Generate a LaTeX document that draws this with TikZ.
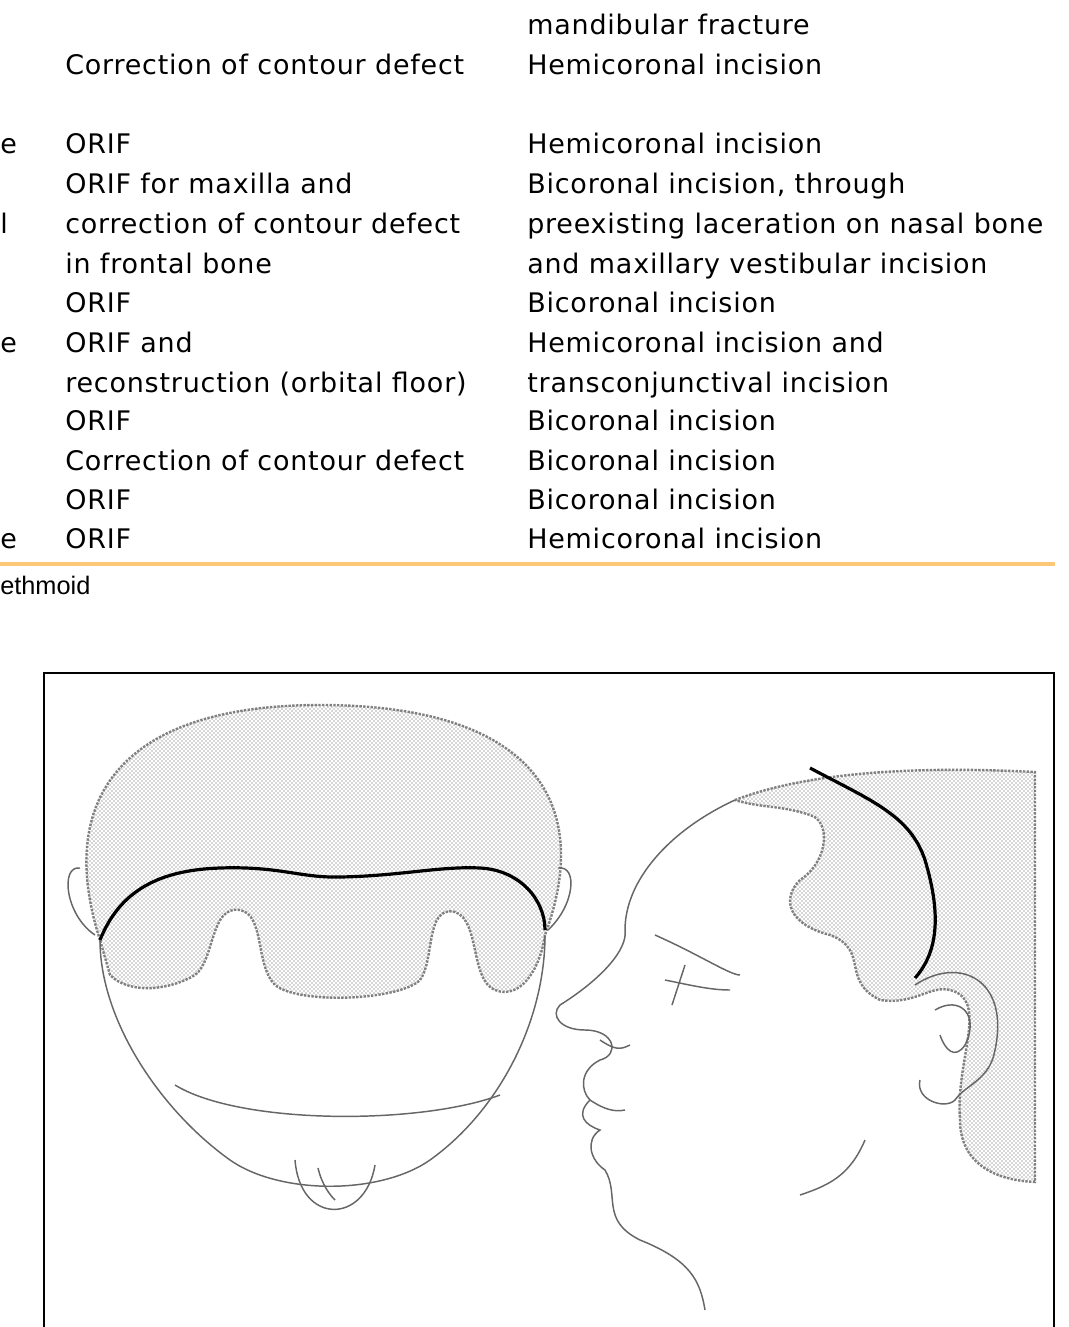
\documentclass[tikz,border=0pt]{standalone}
\usepackage{fontspec}
\setmainfont{DejaVu Sans}[LetterSpace=3]
\newfontfamily\arialf{Liberation Sans}
\usetikzlibrary{patterns}
\begin{document}
\begin{tikzpicture}[x=0.75pt,y=-0.75pt,
  txt/.style={anchor=base west,inner sep=0pt,font=\fontsize{20.2}{24}\selectfont},
  outl/.style={draw=black!60,line width=1.1pt},
  hair/.style={pattern=crosshatch dots,pattern color=black!70,draw=black!50,line width=1.8pt,densely dotted},
  cut/.style={draw=black,line width=2.4pt}]
\useasboundingbox (0,0) rectangle (1069,1327);
% table text
\foreach \y/\a/\b/\c in {
 35//{}/mandibular fracture,
 75//Correction of contour defect/Hemicoronal incision,
 154/e/ORIF/Hemicoronal incision,
 193//ORIF for maxilla and/{Bicoronal incision, through},
 233/l/correction of contour defect/preexisting laceration on nasal bone,
 273//in frontal bone/and maxillary vestibular incision,
 312//ORIF/Bicoronal incision,
 352/e/ORIF and/Hemicoronal incision and,
 392//reconstruction (orbital floor)/transconjunctival incision,
 430//ORIF/Bicoronal incision,
 470//Correction of contour defect/Bicoronal incision,
 509//ORIF/Bicoronal incision,
 548/e/ORIF/Hemicoronal incision}
{\node[txt] at (0,\y) {\a}; \node[txt] at (65,\y) {\b}; \node[txt] at (527,\y) {\c};}
\draw[color={rgb,255:red,252;green,200;blue,120},line width=2.3pt] (0,564)--(1055,564);
\node[anchor=base west,inner sep=0pt,font=\arialf\fontsize{19}{22}\selectfont] at (0,594) {ethmoid};
% frame
\draw[line width=0.8pt] (44,1330)--(44,673)--(1054,673)--(1054,1330);
% FRONT HEAD
\path[hair] (100,940) .. controls (55,800) and (120,705) .. (320,705)
  .. controls (530,705) and (595,800) .. (545,935)
  .. controls (540,970) and (520,1000) .. (495,990)
  .. controls (470,980) and (480,920) .. (455,912)
  .. controls (425,905) and (435,960) .. (420,980)
  .. controls (400,1000) and (300,1005) .. (275,985)
  .. controls (255,965) and (265,915) .. (240,910)
  .. controls (210,905) and (215,960) .. (195,975)
  .. controls (170,990) and (130,995) .. (110,975) -- cycle;
\draw[outl] (100,940) .. controls (100,1020) and (160,1110) .. (230,1160)
  .. controls (280,1195) and (380,1195) .. (430,1160)
  .. controls (500,1110) and (545,1020) .. (545,935);
\draw[outl] (80,868) .. controls (60,865) and (65,915) .. (95,935);
\draw[outl] (558,868) .. controls (578,865) and (575,905) .. (548,930);
\draw[outl] (175,1085) .. controls (240,1125) and (420,1125) .. (500,1095);
\draw[outl] (295,1160) .. controls (300,1225) and (365,1225) .. (375,1165);
\draw[outl] (318,1168) .. controls (322,1185) and (330,1195) .. (335,1200);
\draw[cut] (100,940) .. controls (120,890) and (160,870) .. (220,868)
  .. controls (280,866) and (300,878) .. (340,877)
  .. controls (400,876) and (440,866) .. (480,868)
  .. controls (520,870) and (545,900) .. (545,930);
% SIDE HEAD
\path[hair] (735,800) .. controls (800,775) and (900,765) .. (1035,772)
  -- (1035,1182) .. controls (990,1180) and (960,1160) .. (960,1120)
  .. controls (955,1060) and (990,1000) .. (950,990)
  .. controls (930,985) and (915,1005) .. (880,1000)
  .. controls (840,980) and (870,950) .. (830,935)
  .. controls (790,925) and (780,900) .. (800,880)
  .. controls (830,860) and (830,820) .. (810,815)
  .. controls (780,805) and (760,808) .. (735,800) -- cycle;
\draw[outl] (735,800) .. controls (670,830) and (625,880) .. (625,930)
  .. controls (628,950) and (600,980) .. (560,1005)
  .. controls (550,1015) and (560,1030) .. (585,1030)
  .. controls (615,1030) and (620,1055) .. (600,1060)
  .. controls (580,1070) and (580,1090) .. (590,1100)
  .. controls (575,1115) and (585,1125) .. (600,1130)
  .. controls (585,1140) and (590,1160) .. (605,1170)
  .. controls (620,1195) and (600,1220) .. (640,1240)
  .. controls (690,1260) and (700,1280) .. (705,1310);
\draw[outl] (590,1100) .. controls (605,1110) and (615,1112) .. (625,1110);
\draw[outl] (600,1040) .. controls (615,1050) and (620,1050) .. (630,1045);
\draw[outl] (655,935) .. controls (700,955) and (730,975) .. (740,975);
\draw[outl] (665,980) .. controls (690,985) and (710,990) .. (730,990);
\draw[outl] (685,965) -- (672,1005);
\draw[outl] (800,1195) .. controls (830,1185) and (850,1175) .. (865,1140);
\draw[outl] (915,985) .. controls (960,955) and (1010,980) .. (995,1050)
  .. controls (990,1080) and (965,1085) .. (955,1100)
  .. controls (945,1110) and (915,1100) .. (920,1080);
\draw[outl] (935,1010) .. controls (960,995) and (980,1015) .. (965,1045)
  .. controls (955,1060) and (945,1050) .. (940,1035);
\draw[cut] (810,768) .. controls (870,800) and (910,815) .. (925,860)
  .. controls (940,910) and (940,950) .. (915,978);
\end{tikzpicture}
\end{document}
